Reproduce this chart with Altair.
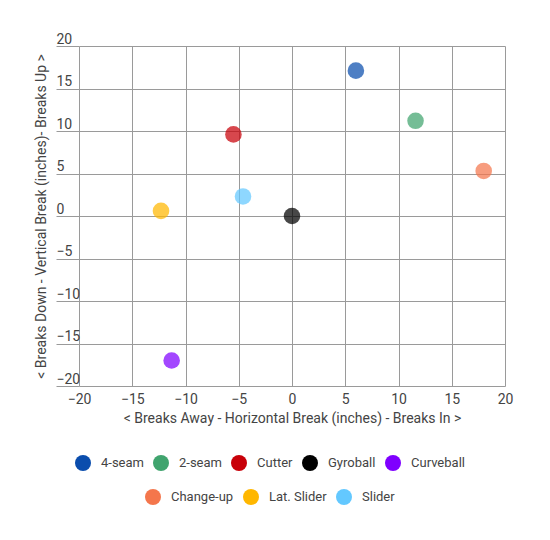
import pandas as pd
import altair as alt

# pitch types and their break (inches)
pitches = ["4-seam", "2-seam", "Cutter", "Gyroball", "Curveball", "Change-up", "Lat. Slider", "Slider"]
horiz_break = [6.0, 11.6, -5.5, 0.0, -11.3, 18.0, -12.3, -4.6]
vert_break = [17.1, 11.2, 9.6, 0.0, -17.0, 5.3, 0.6, 2.3]
colors = ["#0a4dad", "#40a46e", "#c80009", "#000000", "#7f00ff", "#f4764c", "#ffb700", "#63c8ff"]
ticks = [-20, -15, -10, -5, 0, 5, 10, 15, 20]

dat = pd.DataFrame({"pitch": pitches, "h": horiz_break, "v": vert_break})

row1, row2 = pitches[:5], pitches[5:]
col1, col2 = colors[:5], colors[5:]

font = "Roboto"
txt = "#444444"
grid = "#9a9a9a"

x_enc = alt.X("h:Q",
    scale=alt.Scale(domain=[-20, 20], nice=False),
    axis=alt.Axis(values=ticks, grid=True, gridColor=grid, ticks=False, domain=False,
                  labelFlush=False, labelPadding=6, labelFontSize=14, labelColor=txt, labelFont=font,
                  title="< Breaks Away - Horizontal Break (inches) - Breaks In >",
                  titleFontSize=14, titleFontWeight="normal", titleColor=txt, titleFont=font,
                  titlePadding=5))
y_enc = alt.Y("v:Q",
    scale=alt.Scale(domain=[-20, 20], nice=False),
    axis=alt.Axis(values=ticks, grid=True, gridColor=grid, ticks=True, tickSize=23, tickColor=grid,
                  domain=False, labelFlush=False, labelAlign="left", labelBaseline="bottom",
                  labelPadding=0, labelFontSize=14, labelColor=txt, labelFont=font,
                  title="< Breaks Down - Vertical Break (inches)- Breaks Up >",
                  titleFontSize=14, titleFontWeight="normal", titleColor=txt, titleFont=font,
                  titlePadding=7))

def legend(x, y):
    return alt.Legend(title=None, orient="none", legendX=x, legendY=y, direction="horizontal",
                      symbolType="circle", symbolSize=256, symbolOpacity=1, symbolStrokeWidth=0,
                      labelFontSize=13, labelColor=txt, labelFont=font, labelOffset=10,
                      columnPadding=9, padding=0)

base = alt.Chart(dat).mark_circle(size=275, opacity=0.72)

layer1 = base.transform_filter(alt.FieldOneOfPredicate(field="pitch", oneOf=row1)).encode(
    x=x_enc, y=y_enc,
    color=alt.Color("pitch:N", scale=alt.Scale(domain=row1, range=col1), legend=legend(-4, 409)))
layer2 = base.transform_filter(alt.FieldOneOfPredicate(field="pitch", oneOf=row2)).encode(
    x=x_enc, y=y_enc,
    color=alt.Color("pitch:N", scale=alt.Scale(domain=row2, range=col2), legend=legend(66, 443)))

chart = (alt.layer(layer1, layer2)
    .resolve_scale(color="independent")
    .properties(width=426, height=340,
                autosize=alt.AutoSizeParams(type="none"),
                padding={"left": 71, "top": 38, "right": 30, "bottom": 140})
    .configure_view(strokeWidth=0))

chart.save("out.html", embed_options={"renderer": "svg", "actions": False})
